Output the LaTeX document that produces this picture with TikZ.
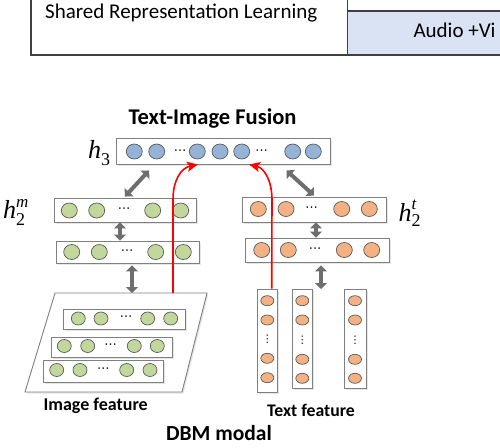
\documentclass[tikz,border=0pt]{standalone}
\usepackage{fontspec}
\setmainfont{Carlito}
\newfontfamily\tms{Liberation Serif}
\newfontfamily\djv{DejaVu Sans}
\usetikzlibrary{arrows.meta,shadows}
\definecolor{boxgray}{HTML}{808080}
\definecolor{cgray}{HTML}{5A5A5A}
\definecolor{gfill}{HTML}{C3D69B}
\definecolor{ofill}{HTML}{F4B183}
\definecolor{bfill}{HTML}{95B3D7}
\definecolor{agray}{HTML}{6E6E6E}
\definecolor{topline}{HTML}{404040}
\definecolor{topfill}{HTML}{DAE3F3}
\definecolor{redline}{HTML}{FF0000}
\begin{document}
\begin{tikzpicture}[x=1pt,y=-1pt,
 lay/.style={draw=boxgray, fill=white, line width=0.9pt, inner sep=0pt, drop shadow={shadow xshift=1.5pt, shadow yshift=-1.5pt, opacity=0.2}},
 gc/.style={draw=cgray, fill=gfill, line width=0.7pt},
 oc/.style={draw=cgray, fill=ofill, line width=0.7pt},
 bc/.style={draw=cgray, fill=bfill, line width=0.7pt},
 hdots/.style={inner sep=0pt, font=\djv\fontsize{12.5}{12.5}\selectfont},
 vdotsn/.style={inner sep=0pt, font=\djv\fontsize{10.5}{10.5}\selectfont},
 biarrow/.style={draw=agray, line width=4pt, {Triangle[width=12pt,length=6pt]}-{Triangle[width=12pt,length=6pt]}},
 redarrow/.style={draw=redline, line width=1.6pt, -{Stealth[length=11pt,width=10pt,inset=2.5pt]}},
 hlab/.style={inner sep=0pt, anchor=base west, font=\tms\fontsize{26}{26}\selectfont},
]
\useasboundingbox (0,0) rectangle (500,447);
\clip (0,0) rectangle (500,447);

% top boxes
\fill[topfill] (347.5,11) rectangle (505,55);
\draw[topline, line width=1.3pt] (31,-5) -- (31,55) -- (505,55);
\draw[topline, line width=1.3pt] (347.5,-5) -- (347.5,55) (347.5,11) -- (505,11);
\node[anchor=base west, inner sep=0pt, font=\fontsize{21}{21}\selectfont] (srl) at (45,18.3) {Shared Representation Learning};
\node[anchor=base west, inner sep=0pt, font=\fontsize{21}{21}\selectfont] (av) at (413.3,37.3) {Audio +Vi};

% title
\node[font=\bfseries\fontsize{22.5}{22.5}\selectfont, anchor=base, inner sep=0pt] (tif) at (212.5,124) {Text-Image Fusion};

% h3 layer
\node[lay, minimum width=214pt, minimum height=26pt] (h3) at (223,151) {};
\foreach \x in {134.3,156.7,197.3,220,241.7,292.7,313.3} \draw[bc] (\x,151.5) ellipse [x radius=8pt, y radius=7.5pt];
\node[hdots] (h3d1) at (180,152) {⋯};
\node[hdots] (h3d2) at (261.7,152) {⋯};

% green layers
\node[lay, minimum width=142pt, minimum height=24pt] (g1) at (125,210) {};
\foreach \x in {69.3,96.7,152.7,180.7} \draw[gc] (\x,210.5) ellipse [x radius=8pt, y radius=7.5pt];
\node[hdots] (g1d) at (124,210.5) {⋯};
\node[lay, minimum width=143pt, minimum height=22pt] (g2) at (127.5,252) {};
\foreach \x in {71.7,99.3,155.7,183.3} \draw[gc] (\x,252) ellipse [x radius=8pt, y radius=7.5pt];
\node[hdots] (g2d) at (127,252) {⋯};

% orange layers
\node[lay, minimum width=144pt, minimum height=25pt] (o1) at (314,209.5) {};
\foreach \x in {258.3,286,341.7,369.3} \draw[oc] (\x,209) ellipse [x radius=8pt, y radius=7.5pt];
\node[hdots] (o1d) at (311.7,209) {⋯};
\node[lay, minimum width=144pt, minimum height=24pt] (o2) at (317,250) {};
\foreach \x in {261.7,288.3,344.3,371.7} \draw[oc] (\x,250) ellipse [x radius=8pt, y radius=7.5pt];
\node[hdots] (o2d) at (315,250) {⋯};

% image feature parallelogram
\draw[draw=boxgray, fill=white, line width=0.9pt, drop shadow={shadow xshift=1.5pt, shadow yshift=-1.5pt, opacity=0.2}] (55,293) -- (207,293) -- (182,392) -- (25,392) -- cycle;
\node[lay, minimum width=122pt, minimum height=20pt] (r1) at (124,319) {};
\foreach \x in {78.3,101,147.7,170.7} \draw[gc] (\x,318.5) ellipse [x radius=7pt, y radius=6.5pt];
\node[hdots] (r1d) at (126,318.5) {⋯};
\node[lay, minimum width=121pt, minimum height=20pt] (r2) at (111.5,347) {};
\foreach \x in {64.3,87.7,134.3,157.3} \draw[gc] (\x,346) ellipse [x radius=7pt, y radius=6.5pt];
\node[hdots] (r2d) at (110.7,346) {⋯};
\node[lay, minimum width=120pt, minimum height=22pt] (r3) at (103,371) {};
\foreach \x in {56.7,80,126.7,150} \draw[gc] (\x,370) ellipse [x radius=7pt, y radius=6.5pt];
\node[hdots] (r3d) at (103.3,370) {⋯};

% text feature columns
\node[lay, minimum width=20pt, minimum height=103pt] (c1) at (267,340.5) {};
\foreach \y in {300.7,320,358.3,377.7} \draw[oc] (267.3,\y) ellipse [x radius=6.5pt, y radius=5pt];
\node[vdotsn] (c1d) at (267.3,339.3) {⋮};
\node[lay, minimum width=20pt, minimum height=99pt] (c2) at (302,338.5) {};
\foreach \y in {300.7,320,359.3,378.3} \draw[oc] (302.3,\y) ellipse [x radius=6.5pt, y radius=5pt];
\node[vdotsn] (c2d) at (302.3,340) {⋮};
\node[lay, minimum width=22pt, minimum height=99pt] (c3) at (355,338.5) {};
\foreach \y in {300.7,320,359.3,378.3} \draw[oc] (355,\y) ellipse [x radius=6.5pt, y radius=5pt];
\node[vdotsn] (c3d) at (355,340) {⋮};

% labels
\node[hlab] (lh3) at (88,158) {\itshape h\raisebox{-7pt}{\fontsize{18}{18}\selectfont\upshape 3}};
\node[hlab] (lh2m) at (3,218.3) {\itshape h\rlap{\raisebox{11pt}{\fontsize{17}{17}\selectfont m}}\raisebox{-7pt}{\fontsize{18}{18}\selectfont\upshape 2}};
\node[hlab] (lh2t) at (398.3,221.7) {\itshape h\rlap{\raisebox{12pt}{\fontsize{17}{17}\selectfont t}}\raisebox{-5pt}{\fontsize{18}{18}\selectfont\upshape 2}};
\node[inner sep=0pt, anchor=base, font=\bfseries\fontsize{18}{18}\selectfont] (imf) at (95.7,410) {Image feature};
\node[inner sep=0pt, anchor=base, font=\bfseries\fontsize{17.7}{17.7}\selectfont] (txf) at (311,416.7) {Text feature};
\node[font=\bfseries\fontsize{21.5}{21.5}\selectfont, anchor=base, inner sep=0pt] (dbm) at (219,440.5) {DBM modal};

% connector coordinates
\coordinate (ptop) at (132,293);
\coordinate (pred) at (173,293);
\coordinate (ctop) at (321,289);
\coordinate (r1b) at (173,200);
\coordinate (r1k1) at (173,180);
\coordinate (r1k2) at (181,168);
\coordinate (r2b) at (272,200);
\coordinate (r2k1) at (272,180);
\coordinate (r2k2) at (264,168);

% grey double arrows
\draw[biarrow] ([xshift=-74pt,yshift=-6pt]h3.south) -- ([yshift=1pt]g1.north);
\draw[biarrow] ([xshift=63.5pt,yshift=-6pt]h3.south) -- ([yshift=1pt]o1.north);
\draw[biarrow] ([xshift=-5pt]g1.south) -- ([xshift=-7.5pt]g2.north);
\draw[biarrow] ([xshift=4.5pt,yshift=-2pt]g2.south) -- (ptop);
\draw[biarrow] ([xshift=2pt]o1.south) -- ([xshift=-1pt]o2.north);
\draw[biarrow] ([xshift=4pt,yshift=-3pt]o2.south) -- (ctop);

% red arrows
\draw[redarrow] (pred) -- (r1b) .. controls (r1k1) and (r1k2) .. ([xshift=-25pt]h3.south);
\draw[redarrow] ([xshift=4.7pt]c1.north) -- (r2b) .. controls (r2k1) and (r2k2) .. ([xshift=26pt]h3.south);
\end{tikzpicture}
\end{document}
